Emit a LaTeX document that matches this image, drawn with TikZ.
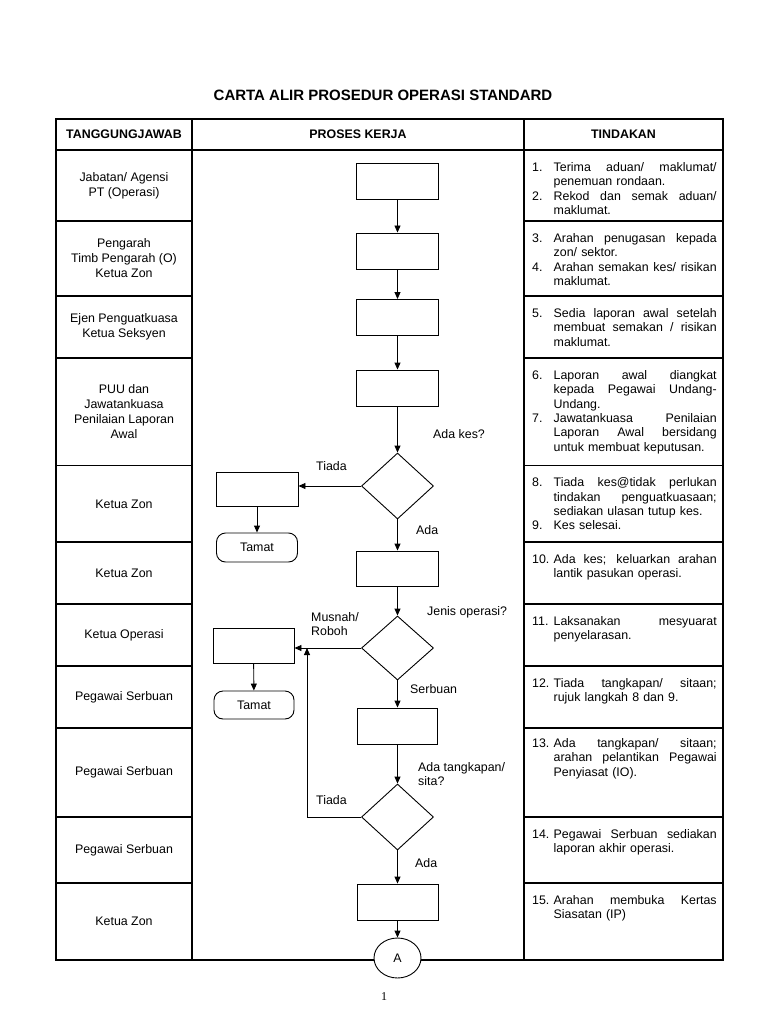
\documentclass[tikz,border=0pt]{standalone}
\usepackage{fontspec}
\setmainfont{Liberation Sans}
\newfontfamily\pgnumfont{Liberation Serif}
\usetikzlibrary{shapes.geometric,arrows.meta}
\newcommand{\bodyfont}{\fontsize{12.4}{14.4}\selectfont}
\newcommand{\respfont}{\fontsize{12.4}{15}\selectfont}
\newcommand{\hdrfont}{\fontsize{12.4}{14.4}\selectfont\bfseries}
\newcommand{\jl}[1]{\hbox to 163pt{\spaceskip=3.4pt plus 1fil\xspaceskip=3.4pt plus 1fil\relax #1}}
\newcommand{\nm}[1]{\strut\makebox[21.5pt][l]{#1}}
\newcommand{\nx}{\strut\hspace*{21.5pt}}
\begin{document}
\begin{tikzpicture}[x=1pt,y=-1pt,
  box/.style={draw, line width=0.9pt, minimum width=82pt, minimum height=36pt, inner sep=0pt},
  dec/.style={draw, shape=diamond, line width=0.9pt, minimum width=72pt, minimum height=66pt, inner sep=0pt},
  term/.style={draw, rounded corners=9pt, line width=0.9pt, minimum width=81pt, minimum height=29pt, inner sep=0pt, font=\bodyfont},
  arr/.style={line width=0.9pt, -{Triangle[length=7pt,width=6pt]}},
  lbl/.style={anchor=north west, inner sep=0pt, font=\bodyfont, align=left},
  resp/.style={align=center, inner sep=0pt, font=\respfont},
  act/.style={anchor=north west, inner sep=0pt, text width=184.5pt, align=left, font=\bodyfont},
  tbl/.style={line width=1.8pt},
  hdr/.style={font=\hdrfont, inner sep=0pt}]
\fill[white] (0,0) rectangle (768,1024);
\useasboundingbox (0,0) rectangle (768,1024);

% title
\node[font=\fontsize{15}{18}\selectfont\bfseries, inner sep=0pt] (title) at (383,95) {CARTA ALIR PROSEDUR OPERASI STANDARD};

% table
\draw[tbl] (56,119) rectangle (723,960);
\draw[tbl] (192,119) -- (192,960);
\draw[tbl] (524,119) -- (524,960);
\draw[tbl] (56,150) -- (723,150);
\foreach \yy in {221,296,358,465.5,542,604,666,728,817,883} {
  \draw[tbl] (56,\yy) -- (192,\yy);
  \draw[tbl] (524,\yy) -- (723,\yy);
}

% headers
\node[hdr] (h1) at (124,134.5) {TANGGUNGJAWAB};
\node[hdr] (h2) at (358,134.5) {PROSES KERJA};
\node[hdr] (h3) at (623.5,134.5) {TINDAKAN};

% responsibility column
\node[resp] (r1) at (124,185.5) {Jabatan/ Agensi\\PT (Operasi)};
\node[resp] (r2) at (124,258.5) {Pengarah\\Timb Pengarah (O)\\Ketua Zon};
\node[resp] (r3) at (124,327) {Ejen Penguatkuasa\\Ketua Seksyen};
\node[resp] (r4) at (124,411.5) {PUU dan\\Jawatankuasa\\Penilaian Laporan\\Awal};
\node[resp] (r5) at (124,504) {Ketua Zon};
\node[resp] (r6) at (124,573) {Ketua Zon};
\node[resp] (r7) at (124,635) {Ketua Operasi};
\node[resp] (r8) at (124,697) {Pegawai Serbuan};
\node[resp] (r9) at (124,772.5) {Pegawai Serbuan};
\node[resp] (r10) at (124,850) {Pegawai Serbuan};
\node[resp] (r11) at (124,921.5) {Ketua Zon};

% action column
\node[act] (a1) at (532,161) {\nm{1.}\jl{Terima aduan/ maklumat/}\\\nx penemuan rondaan.\\\nm{2.}\jl{Rekod dan semak aduan/}\\\nx maklumat.};
\node[act] (a2) at (532,232) {\nm{3.}\jl{Arahan penugasan kepada}\\\nx zon/ sektor.\\\nm{4.}\jl{Arahan semakan kes/ risikan}\\\nx maklumat.};
\node[act] (a3) at (532,307) {\nm{5.}\jl{Sedia laporan awal setelah}\\\nx\jl{membuat semakan / risikan}\\\nx maklumat.};
\node[act] (a4) at (532,369) {\nm{6.}\jl{Laporan awal diangkat}\\\nx\jl{kepada Pegawai Undang-}\\\nx Undang.\\\nm{7.}\jl{Jawatankuasa Penilaian}\\\nx\jl{Laporan Awal bersidang}\\\nx untuk membuat keputusan.};
\node[act] (a5) at (532,476.5) {\nm{8.}\jl{Tiada kes@tidak perlukan}\\\nx\jl{tindakan penguatkuasaan;}\\\nx sediakan ulasan tutup kes.\\\nm{9.}Kes selesai.};
\node[act] (a6) at (532,553) {\nm{10.}\jl{Ada kes; keluarkan arahan}\\\nx lantik pasukan operasi.};
\node[act] (a7) at (532,615) {\nm{11.}\jl{Laksanakan mesyuarat}\\\nx penyelarasan.};
\node[act] (a8) at (532,677) {\nm{12.}\jl{Tiada tangkapan/ sitaan;}\\\nx rujuk langkah 8 dan 9.};
\node[act] (a9) at (532,737) {\nm{13.}\jl{Ada tangkapan/ sitaan;}\\\nx\jl{arahan pelantikan Pegawai}\\\nx Penyiasat (IO).};
\node[act] (a10) at (532,828) {\nm{14.}\jl{Pegawai Serbuan sediakan}\\\nx laporan akhir operasi.};
\node[act] (a11) at (532,894) {\nm{15.}\jl{Arahan membuka Kertas}\\\nx Siasatan (IP)};

% flowchart
\node[box] (b1) at (397.5,181) {};
\node[box] (b2) at (397.5,251) {};
\node[box] (b3) at (397.5,317.5) {};
\node[box] (b4) at (397.5,388) {};
\node[dec] (d1) at (397.5,486) {};
\node[box, minimum height=34pt] (t1) at (257,489) {};
\node[term] (tm1) at (257,547.5) {Tamat};
\node[box, minimum height=35pt] (b5) at (397.5,568.5) {};
\node[dec, minimum height=64pt] (d2) at (397.5,648) {};
\node[box, minimum width=81pt, minimum height=35pt] (m1) at (253.5,645.5) {};
\node[term, minimum width=80pt, minimum height=28pt] (tm2) at (254,705) {Tamat};
\node[box, minimum width=80pt] (b6) at (397.5,726) {};
\node[dec] (d3) at (397.5,817) {};
\node[box, minimum width=81pt] (b7) at (397.5,902) {};
\node[ellipse, draw, fill=white, minimum width=47pt, minimum height=40pt, inner sep=0pt, line width=0.9pt, font=\bodyfont] (A) at (397.5,958) {A};

\draw[arr] (b1) -- (b2);
\draw[arr] (b2) -- (b3);
\draw[arr] (b3) -- (b4);
\draw[arr] (b4) -- (d1);
\draw[arr] (d1) -- (b5);
\draw[arr] (b5) -- (d2);
\draw[arr] (d2) -- (b6);
\draw[arr] (b6) -- (d3);
\draw[arr] (d3) -- (b7);
\draw[arr] (b7) -- (A);
\draw[arr] (d1.west) -- (d1.west -| t1.east);
\draw[arr] (t1) -- (tm1);
\draw[arr] (d2.west) -- (d2.west -| m1.east);
\draw[arr] (m1) -- (tm2);
\coordinate (rj) at (307,648);
\draw[arr] (d3.west) -| (rj);

% flow labels
\node[lbl] (l1) at (433,428.3) {\strut Ada kes?};
\node[lbl] (l2) at (316,460.3) {\strut Tiada};
\node[lbl] (l3) at (416,524.3) {\strut Ada};
\node[lbl] (l4) at (427,605.3) {\strut Jenis operasi?};
\node[lbl] (l5) at (311,611.3) {\strut Musnah/\\\strut Roboh};
\node[lbl] (l6) at (410,683.3) {\strut Serbuan};
\node[lbl] (l7) at (418,761.3) {\strut Ada tangkapan/\\\strut sita?};
\node[lbl] (l8) at (316,794.3) {\strut Tiada};
\node[lbl] (l9) at (415,857.3) {\strut Ada};

% page number
\node[font=\pgnumfont\fontsize{12}{14}\selectfont, inner sep=0pt] (pg) at (384,997) {1};
\end{tikzpicture}
\end{document}
